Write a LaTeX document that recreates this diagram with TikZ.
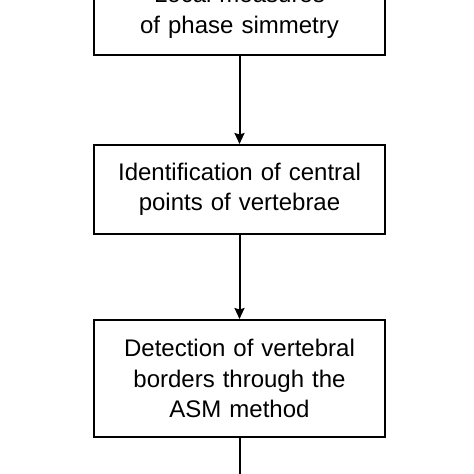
\documentclass[tikz,border=0pt]{standalone}
\usepackage{fontspec}
\setmainfont{Liberation Sans}
\usepackage{tikz}
\usetikzlibrary{arrows.meta, positioning, calc}
\tikzset{
    stepbox/.style={rectangle, draw=black, line width=2pt, fill=white, minimum width=291pt, text width=280pt, align=center, inner sep=0pt, font=\fontsize{24}{30.5}\selectfont},
    arrow/.style={line width=2pt, -{Stealth[length=11pt, width=10pt, inset=1.5pt]}}
}

\begin{document}
\begin{tikzpicture}[node distance=88pt]
    \useasboundingbox (0,0) rectangle (474pt,-474pt);
    \clip (0,0) rectangle (474pt,-474pt);
    \node (phase) [stepbox, minimum height=86pt] at (239.5pt,-12pt) {Local measures\\of phase simmetry};
    \node (centres) [stepbox, below=of phase, minimum height=89pt] {Identification of central\\points of vertebrae};
    \node (borders) [stepbox, below=84pt of centres, minimum height=117pt] {Detection of vertebral\\borders through the\\ASM method};
    \coordinate (next) at ($(borders.south)+(0,-60pt)$);

    \draw [arrow] (phase) -- (centres);
    \draw [arrow] (centres) -- (borders);
    \draw [arrow] (borders) -- (next);
\end{tikzpicture}
\end{document}
